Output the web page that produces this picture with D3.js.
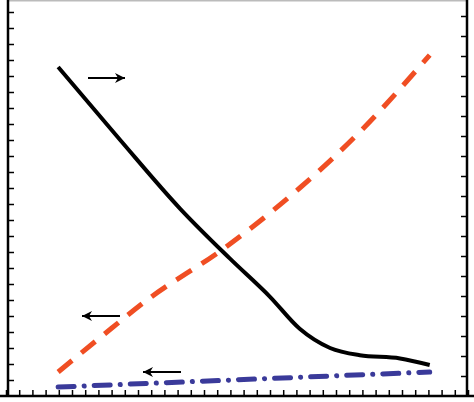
<!DOCTYPE html><html><head><script src="https://cdn.jsdelivr.net/npm/d3@7"></script>
<style>body{margin:0;background:#fff}</style></head><body><svg id="c" width="474" height="402"></svg><script>
const blackX=[0.79,1.73,2.64,3.39,4.0,4.45,4.91,5.36,5.97,6.42];
const blackY=[20.56,16.0,11.7,8.6,6.2,4.2,3.0,2.55,2.35,1.94];
const orangeX=[0.79,1.42,2.18,3.27,4.45,5.36,6.42];
const orangeY=[1.5,3.63,6.13,9.13,13.0,16.5,21.31];
const blueX=[0.79,6.42];
const blueY=[0.56,1.5];
const svg=d3.select("#c");
const x=d3.scaleLinear().domain([0,7]).range([6,468]);
const yL=d3.scaleLinear().domain([0,24.75]).range([396,0]);
const yR=d3.scaleLinear().domain([0,19.8]).range([396,0]);
svg.append("line").attr("x1",8).attr("x2",466).attr("y1",0.5).attr("y2",0.5).attr("stroke","#bbb").attr("stroke-width",2);
const gl=svg.append("g").attr("transform","translate(8,0)").call(d3.axisRight(yL).tickValues(d3.range(1,25)).tickSize(6).tickFormat(""));
const gr=svg.append("g").attr("transform","translate(467,0)").call(d3.axisLeft(yR).tickValues(d3.range(1,20)).tickSize(6).tickFormat(""));
const gb=svg.append("g").attr("transform","translate(0,396)").call(d3.axisTop(x).tickValues(d3.range(0,7.01,0.2)).tickSize(6).tickFormat(""));
[gl,gr,gb].forEach(g=>{g.selectAll("path").attr("stroke","#000").attr("stroke-width",2.5);g.selectAll("line").attr("stroke","#000").attr("stroke-width",1.5);});
gb.selectAll("path").attr("d","M0,0H474");
gl.selectAll("path").attr("d","M0,0V396");gr.selectAll("path").attr("d","M0,0V396");
const ln=(X,Y)=>d3.line().x((d,i)=>x(X[i])).y((d,i)=>yL(Y[i])).curve(d3.curveMonotoneX)(X);
svg.append("path").attr("d",ln(blackX,blackY)).attr("fill","none").attr("stroke","#000").attr("stroke-width",4);
svg.append("path").attr("d",ln(orangeX,orangeY)).attr("fill","none").attr("stroke","#f04e23").attr("stroke-width",5).attr("stroke-dasharray","18,12");
svg.append("path").attr("d",ln(blueX,blueY)).attr("fill","none").attr("stroke","#3a3a9a").attr("stroke-width",5).attr("stroke-linecap","round").attr("stroke-dasharray","16,10,0.1,10");
svg.append("defs").append("marker").attr("id","ah").attr("viewBox","0 0 10 10").attr("refX",10).attr("refY",5).attr("markerWidth",14).attr("markerHeight",10).attr("markerUnits","userSpaceOnUse").attr("orient","auto").append("path").attr("d","M0,0L10,5L0,10L3,5Z").attr("fill","#000");
const arrows=[[88,125,78],[120,82,316],[181,143,372]];
arrows.forEach(a=>svg.append("line").attr("x1",a[0]).attr("x2",a[1]).attr("y1",a[2]).attr("y2",a[2]).attr("stroke","#000").attr("stroke-width",2).attr("marker-end","url(#ah)"));
</script></body></html>
